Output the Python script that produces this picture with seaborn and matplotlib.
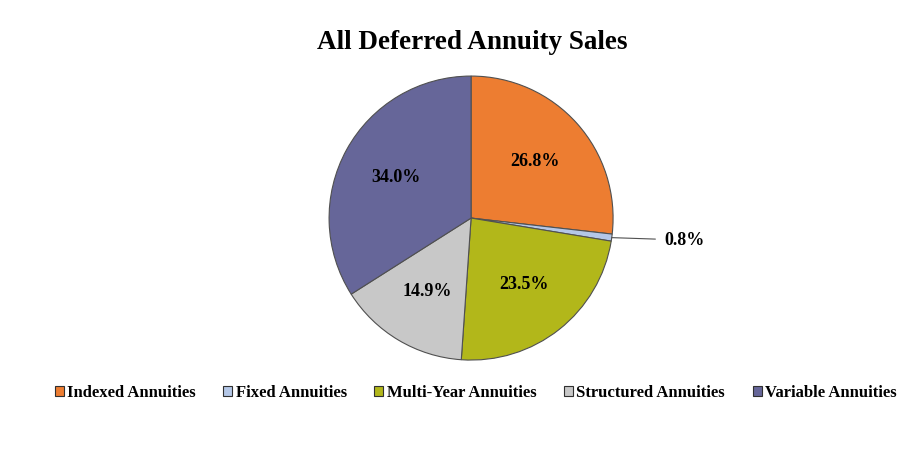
import seaborn as sns
import matplotlib.pyplot as plt
import matplotlib.patches as mpatches
import numpy as np

# data
categories = ['Indexed Annuities', 'Fixed Annuities', 'Multi-Year Annuities',
              'Structured Annuities', 'Variable Annuities']
shares = [26.8, 0.8, 23.5, 14.9, 34.0]
colors = ['#ED7D31', '#B4C7E7', '#B2B71A', '#C8C8C8', '#666699']

sns.set_theme(style="white")
plt.rcParams['font.family'] = ['Liberation Serif', 'DejaVu Serif']
plt.rcParams['text.color'] = 'black'

fig = plt.figure(figsize=(9.2, 4.62), dpi=100)
ax = fig.add_axes([0.512 - 0.1543, 0.528 - 0.3074, 0.3087, 0.6148])

def fmt(p):
    # small slice gets its own label with a leader line
    return '' if p < 2 else '{:.1f}%'.format(p)

wedges, texts, autotexts = ax.pie(shares, colors=colors, startangle=90, counterclock=False,
                                  autopct=fmt, pctdistance=0.6,
                                  wedgeprops={'edgecolor': '#505050', 'linewidth': 0.8},
                                  textprops={'fontsize': 13, 'fontweight': 'bold', 'color': 'black'})
ax.set_xlim(-1, 1)
ax.set_ylim(-1, 1)
ax.set_aspect('equal')

# leader line label for the tiny slice
w = wedges[1]
ang = np.deg2rad((w.theta1 + w.theta2) / 2)
ax.annotate('{:.1f}%'.format(shares[1]), xy=(np.cos(ang), np.sin(ang)),
            xytext=(1.36, -0.155), ha='left', va='center',
            fontsize=13, fontweight='bold', annotation_clip=False,
            arrowprops={'arrowstyle': '-', 'color': '#505050', 'lw': 0.8, 'shrinkA': 4, 'shrinkB': 0})

fig.suptitle('All Deferred Annuity Sales', x=0.513, y=0.935, fontsize=19.5, fontweight='bold')

handles = [mpatches.Patch(facecolor=c, edgecolor='#303030', linewidth=0.8, label=l)
           for c, l in zip(colors, categories)]
fig.legend(handles=handles, loc='center', bbox_to_anchor=(0.517, 0.149), ncol=5,
           frameon=False, handlelength=0.55, handleheight=0.55,
           handletextpad=0.2, columnspacing=1.65,
           prop={'weight': 'bold', 'size': 12})

fig.savefig('out.png', dpi=100, facecolor='white')
